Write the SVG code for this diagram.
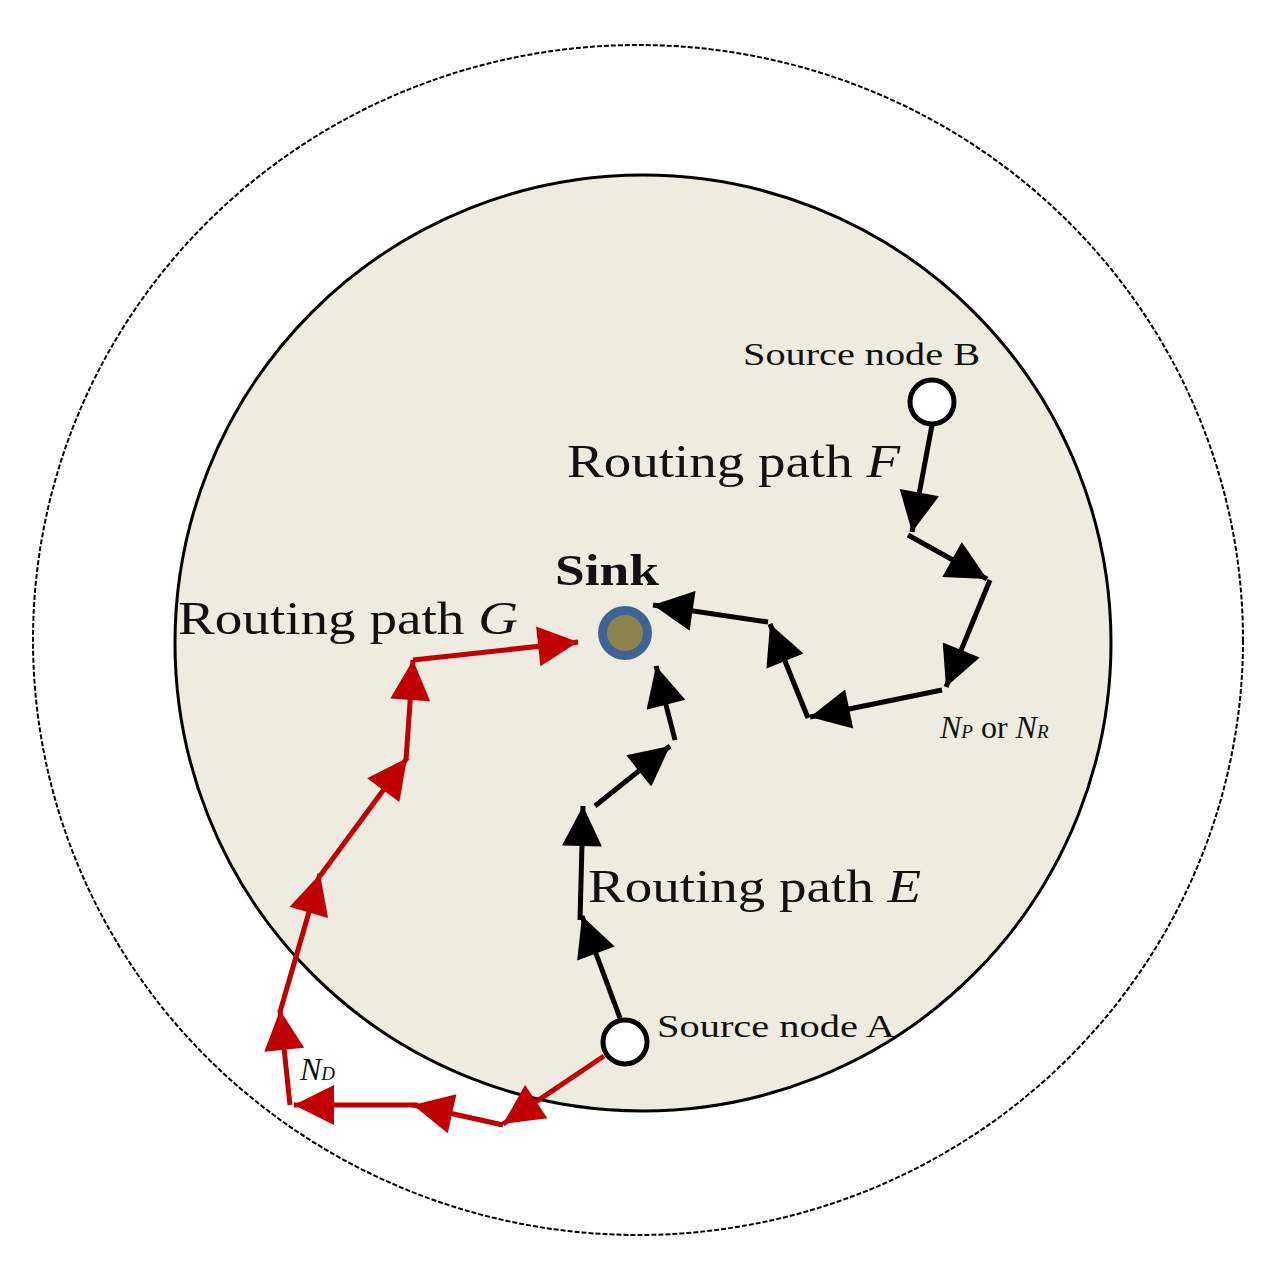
<svg xmlns="http://www.w3.org/2000/svg" width="1277" height="1277" viewBox="0 0 1277 1277">
<style>
.k{stroke:#000;stroke-width:5;fill:none;marker-end:url(#ak)}
.r{stroke:#c00000;stroke-width:5;fill:none;marker-end:url(#ar)}
.t{font-family:"Liberation Serif",serif;fill:#111}
</style>
<defs>
<marker id="ak" viewBox="0 0 10 10" refX="10" refY="5" markerWidth="9" markerHeight="8" orient="auto" markerUnits="strokeWidth"><path d="M0,0L10,5L0,10z" fill="#000"/></marker>
<marker id="ar" viewBox="0 0 10 10" refX="10" refY="5" markerWidth="9" markerHeight="8" orient="auto" markerUnits="strokeWidth"><path d="M0,0L10,5L0,10z" fill="#c00000"/></marker>
</defs>
<rect width="1277" height="1277" fill="#fff"/>
<ellipse cx="638" cy="640" rx="605" ry="595" fill="none" stroke="#000" stroke-width="2" stroke-dasharray="5,2"/>
<circle cx="643" cy="643" r="468" fill="#eeebe0" stroke="#000" stroke-width="3"/>
<g id="connectors">
<line class="k" x1="932" y1="425" x2="912" y2="532"/>
<line class="k" x1="908" y1="535" x2="987" y2="579"/>
<line class="k" x1="990" y1="580" x2="946" y2="687"/>
<line class="k" x1="942" y1="690" x2="810" y2="717"/>
<line class="k" x1="808" y1="718" x2="770" y2="624"/>
<line class="k" x1="768" y1="622" x2="653" y2="605"/>
<line class="k" x1="620" y1="1018" x2="582" y2="916"/>
<line class="k" x1="580" y1="920" x2="583" y2="806"/>
<line class="k" x1="595" y1="806" x2="670" y2="746"/>
<line class="k" x1="675" y1="740" x2="656" y2="666"/>
<line class="r" x1="604" y1="1056" x2="503" y2="1124"/>
<line class="r" x1="503" y1="1125" x2="413" y2="1105"/>
<line class="r" x1="418" y1="1105" x2="294" y2="1105"/>
<line class="r" x1="290" y1="1105" x2="280" y2="1010"/>
<line class="r" x1="280" y1="1012" x2="320" y2="874"/>
<line class="r" x1="320" y1="876" x2="407" y2="758"/>
<line class="r" x1="406" y1="760" x2="413" y2="660"/>
<line class="r" x1="413" y1="660" x2="578" y2="642"/>
</g>
<g id="sink"><circle cx="625" cy="633" r="27" fill="#3f6395"/><circle cx="625" cy="633" r="18" fill="#8d8351"/>
<text class="t" x="555" y="585" font-size="44" font-weight="bold" textLength="104" lengthAdjust="spacingAndGlyphs">Sink</text></g>
<g id="nodeB"><circle cx="932" cy="402" r="22" fill="#fff" stroke="#000" stroke-width="5"/>
<text class="t" x="743" y="365" font-size="32" textLength="237" lengthAdjust="spacingAndGlyphs">Source node B</text></g>
<g id="nodeA"><circle cx="625" cy="1042" r="22" fill="#fff" stroke="#000" stroke-width="5"/>
<text class="t" x="657" y="1037" font-size="32" textLength="238" lengthAdjust="spacingAndGlyphs">Source node A</text></g>
<text class="t" x="567" y="477" font-size="46" textLength="333" lengthAdjust="spacingAndGlyphs">Routing path <tspan font-style="italic">F</tspan></text>
<text class="t" x="178" y="634" font-size="46" textLength="340" lengthAdjust="spacingAndGlyphs">Routing path <tspan font-style="italic">G</tspan></text>
<text class="t" x="588" y="902" font-size="46" textLength="333" lengthAdjust="spacingAndGlyphs">Routing path <tspan font-style="italic">E</tspan></text>
<text class="t" x="940" y="738" font-size="32" fill="#444"><tspan font-style="italic">N</tspan><tspan font-style="italic" font-size="19">P</tspan> or <tspan font-style="italic">N</tspan><tspan font-style="italic" font-size="19">R</tspan></text>
<text class="t" x="300" y="1080" font-size="32" fill="#444" font-style="italic">N<tspan font-size="19">D</tspan></text>
</svg>
